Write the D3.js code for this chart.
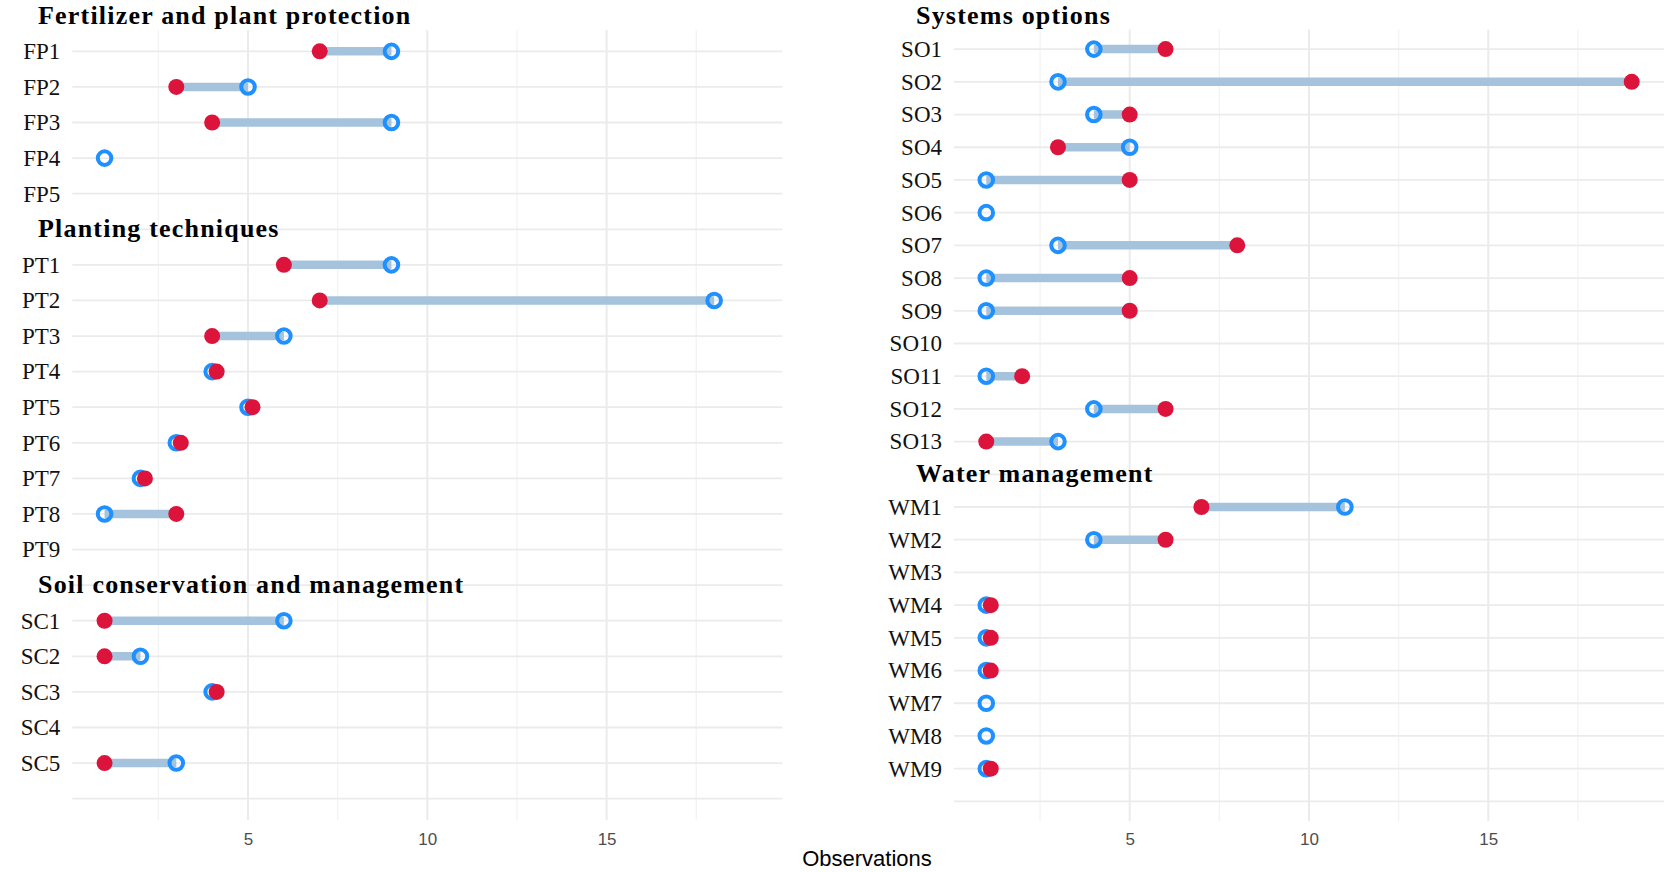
<!DOCTYPE html>
<html>
<head>
<meta charset="utf-8">
<script src="https://cdn.jsdelivr.net/npm/d3@7"></script>
<style>
  body { margin: 0; background: #fff; }
  svg { display: block; }
</style>
</head>
<body>
<div class="chart_box"></div>
<script>
//<data>-------------------------------------//
var fpCodes = ["FP1", "FP2", "FP3", "FP4", "FP5"];
var fpBlue = [9, 5, 9, 1, null];
var fpRed = [7, 3, 4, null, null];

var ptCodes = ["PT1", "PT2", "PT3", "PT4", "PT5", "PT6", "PT7", "PT8", "PT9"];
var ptBlue = [9, 18, 6, 4, 5, 3, 2, 1, null];
var ptRed = [6, 7, 4, 4, 5, 3, 2, 3, null];

var scCodes = ["SC1", "SC2", "SC3", "SC4", "SC5"];
var scBlue = [6, 2, 4, null, 3];
var scRed = [1, 1, 4, null, 1];

var soCodes = ["SO1", "SO2", "SO3", "SO4", "SO5", "SO6", "SO7", "SO8", "SO9", "SO10", "SO11", "SO12", "SO13"];
var soBlue = [4, 3, 4, 5, 1, 1, 3, 1, 1, null, 1, 4, 3];
var soRed = [6, 19, 5, 3, 5, null, 8, 5, 5, null, 2, 6, 1];

var wmCodes = ["WM1", "WM2", "WM3", "WM4", "WM5", "WM6", "WM7", "WM8", "WM9"];
var wmBlue = [11, 4, null, 1, 1, 1, 1, 1, 1];
var wmRed = [7, 6, null, 1, 1, 1, null, null, 1];

var groupTitles = ["Fertilizer and plant protection", "Planting techniques", "Soil conservation and management",
    "Systems options", "Water management"];
var xTickValues = [5, 10, 15];
var xTitle = "Observations";

//<setSize>----------------------------------//
var W = 1665, H = 872;
var colBlue = "#1e90ff", colRed = "#dc143c", colSeg = "#a5c3dc";
var gridMajor = "#ebebeb", gridMinor = "#f3f3f3";

var panels = [
    {
        groups: [
            { title: groupTitles[0], codes: fpCodes, blue: fpBlue, red: fpRed },
            { title: groupTitles[1], codes: ptCodes, blue: ptBlue, red: ptRed },
            { title: groupTitles[2], codes: scCodes, blue: scBlue, red: scRed }
        ],
        xRange: [72.3, 782.3], yRange: [30, 820], titleX: 38
    },
    {
        groups: [
            { title: groupTitles[3], codes: soCodes, blue: soBlue, red: soRed },
            { title: groupTitles[4], codes: wmCodes, blue: wmBlue, red: wmRed }
        ],
        xRange: [954, 1664], yRange: [29.5, 821], titleX: 916
    }
];

var svg = d3.select(".chart_box").append("svg")
    .attr("width", W).attr("height", H)
    .attr("viewBox", "0 0 " + W + " " + H);

panels.forEach(function (p, pi) {
    //rows incl. empty header rows and one blank row at bottom
    var rows = [];
    p.groups.forEach(function (g, gi) {
        if (gi > 0) rows.push("hdr_" + gi);
        g.codes.forEach(function (c) { rows.push(c); });
    });
    rows.push("blank_end");

    var x = d3.scaleLinear().domain([0.1, 19.9]).range(p.xRange);
    var y = d3.scalePoint().domain(rows).range(p.yRange).padding(0.6);

    var gP = svg.append("g").attr("id", "panel" + pi);

    //grid--------------------------------------//
    var majors = x.ticks(4);
    var minors = majors.map(function (t) { return t - 2.5; }).concat([majors[majors.length - 1] + 2.5]);
    gP.append("g").selectAll("line").data(minors).enter().append("line")
        .attr("x1", function (d) { return x(d); }).attr("x2", function (d) { return x(d); })
        .attr("y1", p.yRange[0]).attr("y2", p.yRange[1])
        .attr("stroke", gridMinor).attr("stroke-width", 1.3);
    gP.append("g").selectAll("line").data(majors).enter().append("line")
        .attr("x1", function (d) { return x(d); }).attr("x2", function (d) { return x(d); })
        .attr("y1", p.yRange[0]).attr("y2", p.yRange[1])
        .attr("stroke", gridMajor).attr("stroke-width", 2);
    gP.append("g").selectAll("line").data(rows).enter().append("line")
        .attr("x1", p.xRange[0]).attr("x2", p.xRange[1])
        .attr("y1", function (d) { return y(d); }).attr("y2", function (d) { return y(d); })
        .attr("stroke", gridMajor).attr("stroke-width", 1.8);

    //points data-------------------------------//
    var pts = [];
    p.groups.forEach(function (g) {
        g.codes.forEach(function (c, i) {
            pts.push({ code: c, blue: g.blue[i], red: g.red[i] });
        });
    });

    gP.append("g").selectAll("line").data(pts.filter(function (d) { return d.blue != null && d.red != null; }))
        .enter().append("line")
        .attr("x1", function (d) { return x(d.blue); }).attr("x2", function (d) { return x(d.red); })
        .attr("y1", function (d) { return y(d.code); }).attr("y2", function (d) { return y(d.code); })
        .attr("stroke", colSeg).attr("stroke-width", 8.5);

    gP.append("g").selectAll("circle").data(pts.filter(function (d) { return d.blue != null; }))
        .enter().append("circle")
        .attr("cx", function (d) { return x(d.blue); }).attr("cy", function (d) { return y(d.code); })
        .attr("r", 6.8).attr("fill", "none").attr("stroke", colBlue).attr("stroke-width", 4);

    gP.append("g").selectAll("circle").data(pts.filter(function (d) { return d.red != null; }))
        .enter().append("circle")
        .attr("cx", function (d) { return x(d.red) + (d.red === d.blue ? 4.5 : 0); })
        .attr("cy", function (d) { return y(d.code); })
        .attr("r", 8).attr("fill", colRed);

    //axis y------------------------------------//
    var yAxis = gP.append("g").attr("transform", "translate(" + p.xRange[0] + ",0)")
        .call(d3.axisLeft(y).tickSize(0).tickPadding(12)
            .tickFormat(function (d) { return (d.indexOf("hdr_") === 0 || d === "blank_end") ? "" : d; }));
    yAxis.select(".domain").remove();
    yAxis.selectAll("text")
        .style("font-family", "'Liberation Serif', 'Times New Roman', serif")
        .style("font-size", "23px").attr("fill", "#111");

    //axis x------------------------------------//
    var xAxis = gP.append("g").attr("transform", "translate(0,830)")
        .call(d3.axisBottom(x).tickValues(xTickValues).tickSize(0).tickPadding(3));
    xAxis.select(".domain").remove();
    xAxis.selectAll("text")
        .style("font-family", "'Liberation Sans', Arial, sans-serif")
        .style("font-size", "17px").attr("fill", "#4d4d4d");

    //group titles------------------------------//
    var step = y.step();
    p.groups.forEach(function (g, gi) {
        var by = gi === 0 ? Math.max(y(g.codes[0]) - step + 4, 23.5) : y("hdr_" + gi) + 8;
        gP.append("text").text(g.title)
            .attr("x", p.titleX).attr("y", by)
            .style("font-family", "'Liberation Serif', 'Times New Roman', serif")
            .style("font-weight", "bold").style("font-size", "26px")
            .style("letter-spacing", "1.2px").attr("fill", "#000");
    });
});

svg.append("text").text(xTitle)
    .attr("x", 867).attr("y", 866)
    .style("text-anchor", "middle")
    .style("font-family", "'Liberation Sans', Arial, sans-serif")
    .style("font-size", "22px").attr("fill", "#000");
</script>
</body>
</html>
